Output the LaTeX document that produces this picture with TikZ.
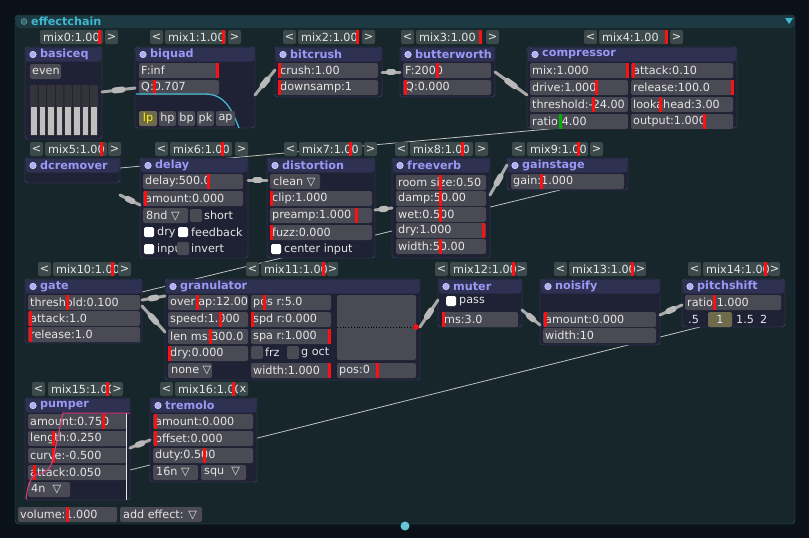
\documentclass[tikz,border=0pt]{standalone}
\usepackage{fontspec}
\setmainfont{DejaVu Sans}
\usetikzlibrary{shapes.geometric,calc}
\definecolor{bg}{HTML}{0B1119}
\definecolor{chain}{HTML}{16262B}
\definecolor{chainbd}{HTML}{2F6670}
\definecolor{chainhd}{HTML}{1D3A42}
\definecolor{cyanT}{HTML}{3FB8D0}
\definecolor{mod}{HTML}{1F2134}
\definecolor{modbd}{HTML}{4A4D78}
\definecolor{modhd}{HTML}{2E3152}
\definecolor{titlec}{HTML}{9A9AF5}
\definecolor{fldc}{HTML}{4A4A54}
\definecolor{mixc}{HTML}{3C4A4C}
\definecolor{txt}{HTML}{E6E6E6}
\definecolor{markc}{HTML}{FF1010}
\definecolor{wire}{HTML}{A8A8A8}
\definecolor{pinkc}{HTML}{E0407A}
\definecolor{yel}{HTML}{6E6A4C}
\newcounter{fc}
\newcommand\fs{\fontsize{11.2}{12}\selectfont}
\tikzset{lbl/.style={txt,anchor=west,inner sep=0pt,font=\fs},
 wirethick/.style={wire,line width=3pt,line cap=round},
 wirethin/.style={wire!70,line width=0.8pt}}
\newcommand\fld[5]{\stepcounter{fc}%
 \fill[fldc,rounded corners=2pt] (#1,#2) rectangle ++(#3,15);
 \node[lbl] (f\thefc) at (#1+2,#2+7.5) {#4};
 \ifx\relax#5\relax\else\fill[markc] (#5-1.5,#2) rectangle ++(3,15);\fi}
\newcommand\mixl[5]{\stepcounter{fc}%
 \fill[mixc,rounded corners=2pt] (#1,#2) rectangle ++(#3,14);
 \node[lbl] (m\thefc) at (#1+3,#2+7) {#4};
 \ifx\relax#5\relax\else\fill[markc] (#5-1.5,#2) rectangle ++(3,14);\fi}
\newcommand\btn[4]{\stepcounter{fc}%
 \fill[mixc,rounded corners=2pt] (#1,#2) rectangle ++(#3,14);
 \node[txt,inner sep=0pt,font=\fs] (b\thefc) at (#1+#3/2,#2+7) {#4};}
\newcommand\fbtn[4]{\stepcounter{fc}%
 \fill[#4,rounded corners=2pt] (#1,#2) rectangle ++(#3,15);}
\newcommand\panel[6]{%
 \draw[modbd,fill=mod,rounded corners=3pt] (#2,#3) rectangle ++(#4,#5);
 \fill[modhd,rounded corners=3pt] (#2+0.5,#3+0.5) rectangle ++(#4-1,14);
 \draw[white!80!titlec,fill=titlec!80] (#2+8,#3+7.5) circle (3.3);
 \node[titlec,anchor=west,inner sep=0pt,font=\fs\bfseries] (#1) at (#2+15,#3+7.5) {#6};}
\newcommand\chk[3]{\stepcounter{fc}%
 \fill[white,rounded corners=1.5pt] (#1,#2+2) rectangle ++(10,10);
 \node[lbl] (c\thefc) at (#1+13,#2+7.5) {#3};}
\newcommand\gchk[3]{\stepcounter{fc}%
 \fill[fldc,rounded corners=2pt] (#1,#2+1) rectangle ++(12,13);
 \node[lbl] (c\thefc) at (#1+14,#2+7.5) {#3};}
\newcommand\capsule[2]{\draw[wirethick] (#1) -- (#2);
 \draw[wire!80!white,line width=6pt,line cap=round] ($(#1)!0.38!(#2)$) -- ($(#1)!0.62!(#2)$);}
\begin{document}
\begin{tikzpicture}[x=1pt,y=-1pt]
\fill[bg] (0,0) rectangle (809,538);
\useasboundingbox (0,0) rectangle (809,538);
\draw[chainbd,fill=chain,rounded corners=4pt] (15,15) rectangle (795,524);
\fill[chainhd,rounded corners=4pt] (15.5,15.5) rectangle (794.5,28);
\draw[chainbd!60!white,fill=chainbd] (24,21.5) circle (3);
\node[cyanT,anchor=west,inner sep=0pt,font=\fs\bfseries] (ec) at (31,21.5) {effectchain};
\fill[cyanT] (785,18) -- (793,18) -- (789,24) -- cycle;
\fill[cyanT!80] (405,526) circle (4.5);
\coordinate (w1a) at (560,128); \coordinate (w1b) at (120,168);
\draw[wirethin] (w1a) -- (w1b);
\coordinate (w2a) at (560,190); \coordinate (w2b) at (142,292);
\draw[wirethin] (w2a) -- (w2b);
\coordinate (w3a) at (700,327); \coordinate (w3b) at (130,470);
\draw[wirethin] (w3a) -- (w3b);
\mixl{40}{30}{63}{mix0:1.00}{99}\btn{105}{30}{13}{>}
\btn{150}{30}{13}{<}\mixl{165}{30}{61}{mix1:1.00}{223}\btn{228}{30}{13}{>}
\btn{283}{30}{13}{<}\mixl{298}{30}{61}{mix2:1.00}{357}\btn{362}{30}{13}{>}
\btn{401}{30}{13}{<}\mixl{416}{30}{66}{mix3:1.00}{480}\btn{486}{30}{13}{>}
\btn{584}{30}{13}{<}\mixl{599}{30}{68}{mix4:1.00}{666}\btn{670}{30}{13}{>}
\panel{basiceq}{25}{47}{77}{92}{basiceq}
\fill[fldc,rounded corners=2pt] (30,64) rectangle (61,79);
\node[lbl] (even) at (32,71.5) {even};
\foreach \i in {0,...,7}{
  \fill[fldc!70!black,rounded corners=1pt] (30+\i*8.6,85) rectangle ++(7.6,51);
  \fill[white!75!black] (30+\i*8.6+1,107) rectangle ++(5.6,28);}
\panel{biquad}{135}{47}{120}{81}{biquad}
\fld{139}{63}{80}{F:inf}{217}
\fld{139}{80}{80}{Q:0.707}{154}
\draw[cyanT,line width=1.3pt] (136,94) -- (205,94) .. controls (225,94) and (232,110) .. (239,128);
\fbtn{139}{111}{18}{yel}\node[yellow,inner sep=0pt,font=\fs] (lp) at (148,118.5) {lp};
\fbtn{159}{111}{17}{fldc}\node[txt,inner sep=0pt,font=\fs] (hp) at (167.5,118.5) {hp};
\fbtn{178}{111}{17}{fldc}\node[txt,inner sep=0pt,font=\fs] (bp) at (186.5,118.5) {bp};
\fbtn{197}{111}{17}{fldc}\node[txt,inner sep=0pt,font=\fs] (pk) at (205.5,118.5) {pk};
\fbtn{216}{111}{19}{fldc}\node[txt,inner sep=0pt,font=\fs] (ap) at (225.5,118.5) {ap};
\panel{bitcrush}{275}{47}{107}{50}{bitcrush}
\fld{278}{63}{100}{crush:1.00}{279}
\fld{278}{80}{100}{downsamp:1}{279}
\panel{butterworth}{400}{47}{95}{50}{butterworth}
\fld{403}{63}{88}{F:2000}{437}
\fld{403}{80}{88}{Q:0.000}{405}
\panel{compressor}{527}{47}{210}{81}{compressor}
\fld{530}{63}{98}{mix:1.000}{627}\fld{631}{63}{102}{attack:0.10}{633}
\fld{530}{80}{98}{drive:1.000}{596}\fld{631}{80}{102}{release:100.0}{732}
\fld{530}{97}{98}{threshold:-24.00}{593}\fld{631}{97}{102}{lookahead:3.00}{660}
\fld{530}{114}{98}{ratio:4.00}{}\fld{631}{114}{102}{output:1.000}{704}
\fill[green!70!black] (558.5,114) rectangle ++(3,15);
\coordinate (c1a) at (102,92); \coordinate (c1b) at (135,88); \capsule{c1a}{c1b}
\coordinate (c2a) at (255,95); \coordinate (c2b) at (275,70); \capsule{c2a}{c2b}
\coordinate (c3a) at (382,72); \coordinate (c3b) at (400,72); \capsule{c3a}{c3b}
\coordinate (c4a) at (495,72); \coordinate (c4b) at (527,95); \capsule{c4a}{c4b}
\btn{30}{142}{13}{<}\mixl{45}{142}{62}{mix5:1.00}{101}\btn{108}{142}{13}{>}
\btn{155}{142}{13}{<}\mixl{170}{142}{62}{mix6:1.00}{222}\btn{235}{142}{13}{>}
\btn{284}{142}{13}{<}\mixl{299}{142}{63}{mix7:1.00}{350}\btn{364}{142}{13}{>}
\btn{395}{142}{13}{<}\mixl{410}{142}{63}{mix8:1.00}{462}\btn{475}{142}{13}{>}
\btn{512}{142}{13}{<}\mixl{527}{142}{61}{mix9:1.00}{578}\btn{590}{142}{13}{>}
\panel{dcremover}{25}{158}{95}{25}{dcremover}
\panel{delay}{140}{158}{108}{100}{delay}
\fld{143}{174}{100}{delay:500.0}{208}
\fld{143}{191}{100}{amount:0.000}{145}
\fbtn{143}{208}{45}{fldc}\node[lbl] (d8) at (146,215.5) {8nd ▽};
\gchk{190}{208}{short}
\chk{144}{225}{dry}\chk{178}{225}{feedback}
\chk{144}{242}{input}\gchk{177}{241}{invert}
\panel{distortion}{267}{158}{108}{100}{distortion}
\fbtn{270}{174}{50}{fldc}\node[lbl] (dclean) at (273,181.5) {clean ▽};
\fld{270}{191}{102}{clip:1.000}{271}
\fld{270}{208}{102}{preamp:1.000}{356}
\fld{270}{225}{102}{fuzz:0.000}{271}
\chk{271}{242}{center input}
\panel{freeverb}{392}{158}{98}{100}{freeverb}
\fld{396}{175}{90}{room size:0.50}{440}
\fld{396}{191}{90}{damp:50.00}{440}
\fld{396}{207}{90}{wet:0.500}{440}
\fld{396}{223}{90}{dry:1.000}{483}
\fld{396}{239}{90}{width:50.00}{440}
\panel{gainstage}{507}{158}{121}{32}{gainstage}
\fld{511}{174}{113}{gain:1.000}{541}
\coordinate (c5a) at (120,195); \coordinate (c5b) at (140,205); \capsule{c5a}{c5b}
\coordinate (c6a) at (248,180); \coordinate (c6b) at (267,180); \capsule{c6a}{c6b}
\coordinate (c7a) at (375,210); \coordinate (c7b) at (392,208); \capsule{c7a}{c7b}
\coordinate (c8a) at (490,195); \coordinate (c8b) at (507,165); \capsule{c8a}{c8b}
\btn{38}{262}{13}{<}\mixl{53}{262}{63}{mix10:1.00}{112}\btn{118}{262}{13}{>}
\btn{246}{262}{13}{<}\mixl{261}{262}{66}{mix11:1.00}{323}\btn{327}{262}{11}{>}
\btn{435}{262}{13}{<}\mixl{450}{262}{66}{mix12:1.00}{513}\btn{516}{262}{11}{>}
\btn{554}{262}{13}{<}\mixl{569}{262}{66}{mix13:1.00}{632}\btn{635}{262}{11}{>}
\btn{688}{262}{13}{<}\mixl{703}{262}{66}{mix14:1.00}{765}\btn{769}{262}{11}{>}
\panel{gate}{25}{279}{117}{64}{gate}
\fld{28}{295}{112}{threshold:0.100}{67}
\fld{28}{311}{112}{attack:1.0}{30}
\fld{28}{327}{112}{release:1.0}{30}
\panel{granulator}{165}{279}{255}{101}{granulator}
\fld{168}{295}{80}{overlap:12.00}{197}\fld{251}{295}{80}{pos r:5.0}{264}
\fld{168}{312}{80}{speed:1.000}{220}\fld{251}{312}{80}{spd r:0.000}{252}
\fld{168}{329}{80}{len ms:300.0}{210}\fld{251}{329}{80}{spa r:1.000}{329}
\fld{168}{346}{80}{dry:0.000}{169}\gchk{251}{345}{frz}\gchk{287}{345}{g oct}
\fbtn{168}{363}{44}{fldc}\node[lbl] (gnone) at (171,370.5) {none ▽};
\fld{251}{363}{80}{width:1.000}{329}
\fill[fldc,rounded corners=2pt] (337,295) rectangle (416,360);
\draw[black,dotted,thick] (337,327) -- (416,327);
\fill[markc] (416,327) circle (2.8);
\fld{337}{363}{79}{pos:0}{377}
\panel{muter}{438}{279}{84}{48}{muter}
\chk{446}{294}{pass}
\fld{442}{312}{76}{ms:3.0}{443}
\panel{noisify}{540}{279}{120}{66}{noisify}
\fld{543}{312}{113}{amount:0.000}{545}
\fld{543}{328}{113}{width:10}{}
\panel{pitchshift}{682}{279}{103}{48}{pitchshift}
\fld{685}{295}{96}{ratio:1.000}{714}
\node[lbl] (p5) at (688,319.5) {.5};
\fbtn{708}{312}{24}{yel}\node[txt,inner sep=0pt,font=\fs] (p1) at (720,319.5) {1};
\node[lbl] (p15) at (736,319.5) {1.5};
\node[lbl] (p2) at (760,319.5) {2};
\coordinate (c9a) at (142,300); \coordinate (c9b) at (165,296); \capsule{c9a}{c9b}
\coordinate (c10a) at (142,306); \coordinate (c10b) at (165,332); \capsule{c10a}{c10b}
\coordinate (c11a) at (420,327); \coordinate (c11b) at (438,300); \capsule{c11a}{c11b}
\coordinate (c12a) at (522,310); \coordinate (c12b) at (540,325); \capsule{c12a}{c12b}
\coordinate (c13a) at (660,315); \coordinate (c13b) at (682,305); \capsule{c13a}{c13b}
\btn{32}{382}{13}{<}\mixl{48}{382}{63}{mix15:1.00}{107}\btn{111}{382}{12}{>}
\btn{160}{382}{13}{<}\mixl{175}{382}{63}{mix16:1.00}{233}\btn{238}{382}{10}{x}
\panel{pumper}{25}{398}{105}{102}{pumper}
\fld{28}{414}{99}{amount:0.750}{103}
\fld{28}{431}{99}{length:0.250}{53}
\fld{28}{448}{99}{curve:-0.500}{53}
\fld{28}{465}{99}{attack:0.050}{34}
\fbtn{28}{482}{42}{fldc}\node[lbl] (p4n) at (31,489.5) {4n \ ▽};
\draw[white!80!gray,line width=0.7pt] (126,413) -- (126,500);
\draw[pinkc,line width=1pt] (26,499) .. controls (28,485) and (30,476) .. (38,474) .. controls (48,472) and (52,468) .. (55,450) -- (63,413) -- (130,413);
\panel{tremolo}{150}{398}{107}{84}{tremolo}
\fld{153}{414}{100}{amount:0.000}{155}
\fld{153}{431}{100}{offset:0.000}{155}
\fld{153}{448}{100}{duty:0.500}{204}
\fbtn{153}{465}{45}{fldc}\node[lbl] (t16) at (156,472.5) {16n ▽};
\fbtn{201}{465}{45}{fldc}\node[lbl] (tsq) at (204,472.5) {squ \ ▽};
\coordinate (c14a) at (130,448); \coordinate (c14b) at (150,440); \capsule{c14a}{c14b}
\fld{18}{507}{99}{volume:1.000}{67}
\fbtn{120}{507}{82}{fldc}\node[lbl] (add) at (123,514.5) {add effect: ▽};
\end{tikzpicture}
\end{document}
